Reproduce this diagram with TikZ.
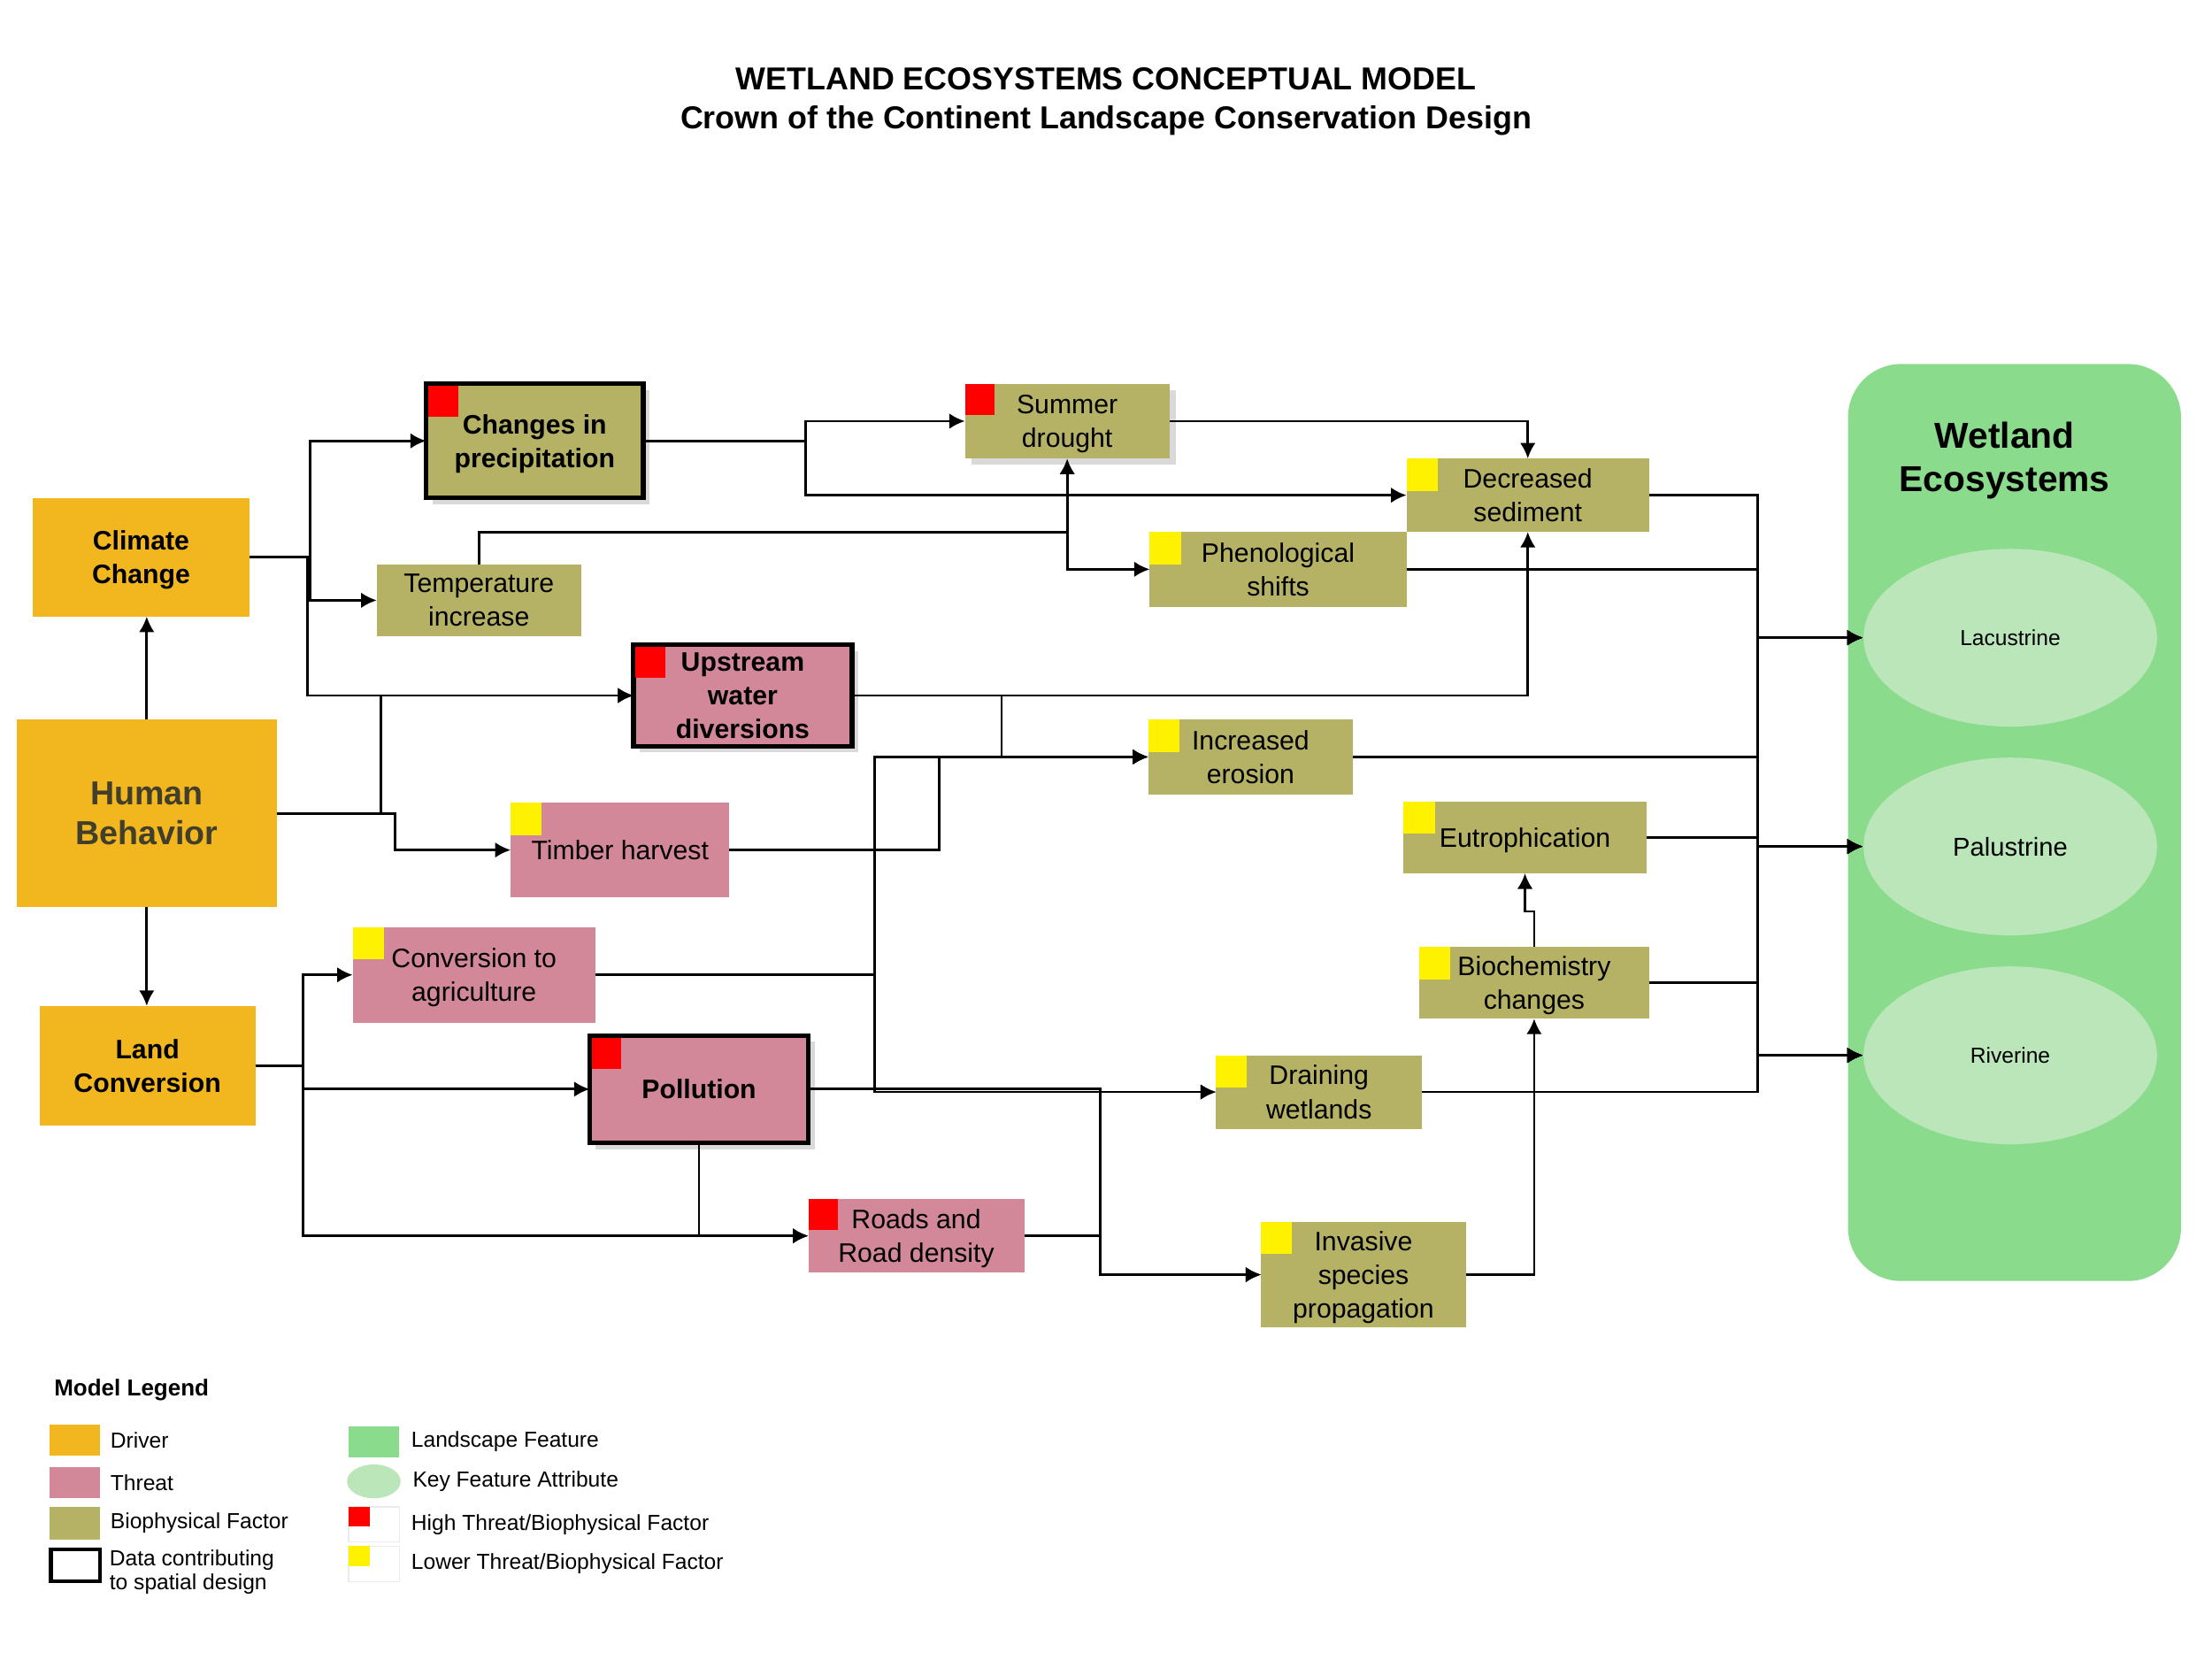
\documentclass[tikz,border=0pt]{standalone}
\usepackage{fontspec}
\setmainfont{Liberation Sans}
\usepackage{xcolor}
\usetikzlibrary{shapes.geometric, arrows.meta, positioning, calc, shadows}

\definecolor{driverc}{RGB}{242,182,30}
\definecolor{threatc}{RGB}{211,136,154}
\definecolor{factorc}{RGB}{181,178,102}
\definecolor{landc}{RGB}{139,219,141}
\definecolor{attrc}{RGB}{186,230,185}
\definecolor{hbtext}{RGB}{66,62,44}

\newcommand{\pxu}{0.015944cm}

\tikzset{
  sz/.style 2 args={minimum width=#1*\pxu, minimum height=#2*\pxu},
  box/.style={rectangle, align=center, inner sep=1pt, outer sep=0pt, text depth=-3pt, font=\fontsize{8.6}{10.9}\selectfont},
  driver/.style={box, fill=driverc, font=\fontsize{8.6}{10.9}\selectfont\bfseries},
  threat/.style={box, fill=threatc},
  biofactor/.style={box, fill=factorc},
  spatialdata/.style={draw=black, line width=1.5pt, font=\fontsize{8.6}{10.9}\selectfont\bfseries},
  shadowed/.style={drop shadow={shadow xshift=2pt, shadow yshift=-2pt, opacity=0.3}},
  attribute/.style={ellipse, fill=attrc, inner sep=0pt, sz={208}{126}},
  swatch/.style={rectangle, inner sep=0pt, outer sep=0pt},
  legtext/.style={font=\fontsize{7}{7.7}\selectfont, inner sep=0pt, align=left},
  link/.style={->, line width=0.8pt}
}

\begin{document}
\begin{tikzpicture}[x=\pxu, y=-\pxu, >={Latex[length=5pt,width=5pt]}]
    \useasboundingbox (0,0) rectangle (1568,1176);

    % Title
    \node[align=center, font=\fontsize{10.2}{12.7}\selectfont\bfseries] (title) at (784,72) {WETLAND ECOSYSTEMS CONCEPTUAL MODEL\\Crown of the Continent Landscape Conservation Design};

    % Drivers
    \node[driver, sz={154}{84}] (cc) at (100,395) {Climate\\Change};
    \node[driver, sz={184}{133}, font=\fontsize{10.7}{12.7}\selectfont\bfseries, text=hbtext] (hb) at (104,576.5) {Human\\Behavior};
    \node[driver, sz={153}{85}] (lc) at (104.5,755.5) {Land\\Conversion};

    % Threats
    \node[threat, spatialdata, shadowed, sz={155}{72}] (upw) at (526.5,493) {Upstream\\water\\diversions};
    \node[threat, sz={155}{67}] (timber) at (439.5,602.5) {Timber harvest};
    \node[threat, sz={172}{68}] (agri) at (336,691) {Conversion to\\agriculture};
    \node[threat, spatialdata, shadowed, sz={155}{76}] (poll) at (495.5,772) {Pollution};
    \node[threat, sz={153}{52}] (roads) at (649.5,876) {Roads and\\Road density};

    % Biophysical factors
    \node[biofactor, spatialdata, shadowed, sz={154}{81}] (prec) at (379,312.5) {Changes in\\precipitation};
    \node[biofactor, sz={145}{51}] (temp) at (339.5,425.5) {Temperature\\increase};
    \node[biofactor, shadowed, sz={145}{53}] (drought) at (756.5,298.5) {Summer\\drought};
    \node[biofactor, sz={172}{52}] (sed) at (1083,351) {Decreased\\sediment};
    \node[biofactor, sz={182}{53}] (pheno) at (906,403.5) {Phenological\\shifts};
    \node[biofactor, sz={145}{53}] (eros) at (886.5,536.5) {Increased\\erosion};
    \node[biofactor, sz={172}{51}] (eutro) at (1081,593.5) {Eutrophication};
    \node[biofactor, sz={163}{51}] (biochem) at (1087.5,696.5) {Biochemistry\\changes};
    \node[biofactor, sz={146}{52}] (drain) at (935,774) {Draining\\wetlands};
    \node[biofactor, sz={145}{75}] (inv) at (966.5,903.5) {Invasive\\species\\propagation};

    % Threat level flags
    \foreach \n/\s in {prec/1.6, upw/1.6, poll/1.6, roads/0, drought/0}
      \fill[red] ([shift={(\s,\s)}]\n.north west) rectangle ++(21,22);
    \foreach \n in {timber, agri, sed, pheno, eros, eutro, biochem, drain, inv}
      \fill[yellow] (\n.north west) rectangle ++(22,23);

    % Landscape feature
    \node[rectangle, rounded corners=0.6cm, fill=landc, sz={236}{650}] (eco) at (1428,583) {};
    \node[align=center, font=\fontsize{11.6}{14}\selectfont\bfseries] (ecotitle) at (1421,326.5) {Wetland\\Ecosystems};
    \node[attribute, font=\fontsize{7}{8}\selectfont] (lac) at (1425,452) {Lacustrine};
    \node[attribute, font=\fontsize{8.3}{10}\selectfont] (pal) at (1425,600) {Palustrine};
    \node[attribute, font=\fontsize{7}{8}\selectfont] (riv) at (1425,748) {Riverine};

    % Climate change links
    \draw[link] (cc.east) -- ++(43,0) |- (prec.west);
    \draw[link] (cc.east) -- ++(43,0) |- (temp.west);
    \draw[link] (cc.east) -- ++(41,0) |- (upw.west);

    % Human behavior links
    \draw[link] (hb.north) -- (hb.north |- cc.south);
    \draw[link] (hb.south) -- (hb.south |- lc.north);
    \draw[link] (hb.east) -- ++(74,0) |- (upw.west);
    \draw[link] (hb.east) -- ++(84,0) |- (timber.west);

    % Land conversion links
    \draw[link] (lc.east) -- ++(34,0) |- (agri.west);
    \draw[link] (lc.east) -- ++(34,0) |- (poll.west);
    \draw[link] (lc.east) -- ++(34,0) |- (roads.west);
    \draw[link] (poll.south) |- (roads.west);

    % Precipitation and temperature
    \draw[link] (prec.east) -- ++(115,0) |- (drought.west);
    \draw[link] (prec.east) -- ++(115,0) |- (sed.west);
    \coordinate (tbend) at ($(temp.north)+(0,-23)$);
    \draw[link] (temp.north) -- (tbend) -| (drought.south);
    \draw[link] (temp.north) -- (tbend) -- (tbend -| drought.south) |- (pheno.west);
    \draw[link] (drought.east) -| (sed.north);

    % Threats to factors
    \draw[link] (upw.east) -| (sed.south);
    \draw[link] (upw.east) -- ++(106,0) |- (eros.west);
    \draw[link] (timber.east) -- ++(149,0) |- (eros.west);
    \draw[link] (agri.east) -- ++(198,0) |- (eros.west);
    \draw[link] (agri.east) -- ++(198,0) |- (drain.west);
    \draw[link] (poll.east) -- ++(207,0) |- (drain.west);
    \draw[link] (poll.east) -- ++(207,0) |- (inv.west);
    \draw[link] (roads.east) -- ++(54,0) |- (inv.west);
    \draw[link] (inv.east) -| (biochem.south);
    \draw[link] (biochem.north) -- ++(0,-25) -| (eutro.south);

    % Into the wetland ecosystems
    \coordinate (bus) at (1246,600);
    \foreach \src in {sed, pheno, eros, eutro, biochem, drain}
      \foreach \dst in {lac, pal, riv}
        \draw[link] (\src.east) -- (\src.east -| bus) |- (\dst.west);

    % Legend
    \node[anchor=west, inner sep=0pt, font=\fontsize{7.4}{8}\selectfont\bfseries] (legtitle) at (38,985) {Model Legend};
    \node[swatch, fill=driverc, sz={36}{22}] (legdrv) at (53,1021) {};
    \node[swatch, fill=threatc, sz={36}{22}] (legthr) at (53,1051) {};
    \node[swatch, fill=factorc, sz={36}{23}] (legfac) at (53,1079.5) {};
    \node[swatch, draw, line width=1.2pt, sz={35}{23}] (legdat) at (53.5,1109.5) {};
    \node[legtext, right=0.11cm of legdrv] (legdrvtxt) {Driver};
    \node[legtext, right=0.11cm of legthr] (legthrtxt) {Threat};
    \node[legtext, right=0.11cm of legfac] (legfactxt) {Biophysical Factor};
    \node[legtext, anchor=north west] (legdattxt) at ([xshift=0.1cm]legdat.north east) {Data contributing\\to spatial design};

    \node[swatch, fill=landc, sz={36}{22}] (legland) at (265,1022) {};
    \node[swatch, ellipse, fill=attrc, sz={38}{24}] (legattr) at (265,1050) {};
    \node[swatch, draw=black!8, sz={36}{25}] (leghigh) at (265,1080.5) {};
    \node[swatch, draw=black!8, sz={36}{25}] (leglow) at (265,1108.5) {};
    \fill[red] (leghigh.north west) rectangle ++(15,14);
    \fill[yellow] (leglow.north west) rectangle ++(15,14);
    \node[legtext, right=0.13cm of legland] (leglandtxt) {Landscape Feature};
    \node[legtext, right=0.13cm of legattr] (legattrtxt) {Key Feature Attribute};
    \node[legtext, right=0.13cm of leghigh] (leghightxt) {High Threat/Biophysical Factor};
    \node[legtext, right=0.13cm of leglow] (leglowtxt) {Lower Threat/Biophysical Factor};
\end{tikzpicture}
\end{document}
